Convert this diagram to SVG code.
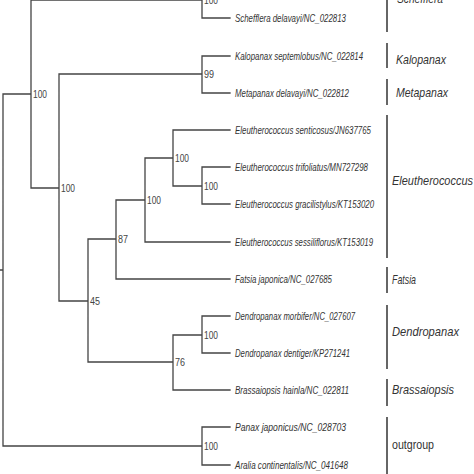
<svg xmlns="http://www.w3.org/2000/svg" width="474" height="474" viewBox="0 0 474 474">
<style>
.br{fill:none;stroke:#444;stroke-width:1.3;stroke-linecap:square}
.bar{stroke:#666;stroke-width:2}
.tip{font-family:"Liberation Sans",Arial,sans-serif;font-style:italic;font-size:10px;fill:#333}
.sup{font-family:"Liberation Sans",Arial,sans-serif;font-size:10px;fill:#444}
.gen{font-family:"Liberation Sans",Arial,sans-serif;font-style:italic;font-size:13px;fill:#333}
.og{font-family:"Liberation Sans",Arial,sans-serif;font-size:13px;fill:#333}
</style>
<rect width="474" height="474" fill="#fff"/>
<g id="connectors">
<path class="br" d="M0,270H3M3,94V446M3,94H31M31,0V188M31,0H202M202,-19V18M202,18H230M31,188H59M59,74V301M59,74H202M202,56V93M202,56H230M202,93H230M59,301H88M88,239V362M88,239H116M116,200V279M116,279H230M116,200H145M145,158V242M145,242H230M145,158H173M173,130V186M173,130H230M173,186H202M202,167V204M202,167H230M202,204H230M88,362H173M173,335V390M173,390H230M173,335H202M202,316V353M202,316H230M202,353H230M3,446H202M202,427V465M202,427H230M202,465H230"/>
</g>
<g id="supports">
<text class="sup" x="204" y="4" textLength="14" lengthAdjust="spacingAndGlyphs">100</text>
<text class="sup" x="33" y="98" textLength="14" lengthAdjust="spacingAndGlyphs">100</text>
<text class="sup" x="204" y="78" textLength="10" lengthAdjust="spacingAndGlyphs">99</text>
<text class="sup" x="61" y="192" textLength="14" lengthAdjust="spacingAndGlyphs">100</text>
<text class="sup" x="90" y="305" textLength="10" lengthAdjust="spacingAndGlyphs">45</text>
<text class="sup" x="118" y="243" textLength="10" lengthAdjust="spacingAndGlyphs">87</text>
<text class="sup" x="147" y="204" textLength="14" lengthAdjust="spacingAndGlyphs">100</text>
<text class="sup" x="175" y="162" textLength="14" lengthAdjust="spacingAndGlyphs">100</text>
<text class="sup" x="204" y="190" textLength="14" lengthAdjust="spacingAndGlyphs">100</text>
<text class="sup" x="175" y="366" textLength="10" lengthAdjust="spacingAndGlyphs">76</text>
<text class="sup" x="204" y="339" textLength="14" lengthAdjust="spacingAndGlyphs">100</text>
<text class="sup" x="204" y="450" textLength="14" lengthAdjust="spacingAndGlyphs">100</text>
</g>
<g id="tips">
<text class="tip" x="235" y="21.5" textLength="111" lengthAdjust="spacingAndGlyphs">Schefflera delavayi/NC_022813</text>
<text class="tip" x="235" y="59.5" textLength="128" lengthAdjust="spacingAndGlyphs">Kalopanax septemlobus/NC_022814</text>
<text class="tip" x="235" y="96.5" textLength="114" lengthAdjust="spacingAndGlyphs">Metapanax delavayi/NC_022812</text>
<text class="tip" x="235" y="133.5" textLength="136" lengthAdjust="spacingAndGlyphs">Eleutherococcus senticosus/JN637765</text>
<text class="tip" x="235" y="170.5" textLength="133" lengthAdjust="spacingAndGlyphs">Eleutherococcus trifoliatus/MN727298</text>
<text class="tip" x="235" y="207.5" textLength="139" lengthAdjust="spacingAndGlyphs">Eleutherococcus gracilistylus/KT153020</text>
<text class="tip" x="235" y="245.5" textLength="138" lengthAdjust="spacingAndGlyphs">Eleutherococcus sessiliflorus/KT153019</text>
<text class="tip" x="235" y="282.5" textLength="97" lengthAdjust="spacingAndGlyphs">Fatsia japonica/NC_027685</text>
<text class="tip" x="235" y="319.5" textLength="120" lengthAdjust="spacingAndGlyphs">Dendropanax morbifer/NC_027607</text>
<text class="tip" x="235" y="356.5" textLength="115" lengthAdjust="spacingAndGlyphs">Dendropanax dentiger/KP271241</text>
<text class="tip" x="235" y="393.5" textLength="114" lengthAdjust="spacingAndGlyphs">Brassaiopsis hainla/NC_022811</text>
<text class="tip" x="235" y="430.5" textLength="111" lengthAdjust="spacingAndGlyphs">Panax japonicus/NC_028703</text>
<text class="tip" x="235" y="468.5" textLength="113" lengthAdjust="spacingAndGlyphs">Aralia continentalis/NC_041648</text>
</g>
<g id="genera">
<line class="bar" x1="387" y1="0" x2="387" y2="32"/>
<text class="gen" x="397" y="3" textLength="46" lengthAdjust="spacingAndGlyphs">Schefflera</text>
<line class="bar" x1="387" y1="43" x2="387" y2="68"/>
<text class="gen" x="396" y="64" textLength="50" lengthAdjust="spacingAndGlyphs">Kalopanax</text>
<line class="bar" x1="387" y1="79" x2="387" y2="105"/>
<text class="gen" x="396" y="97" textLength="52" lengthAdjust="spacingAndGlyphs">Metapanax</text>
<line class="bar" x1="387" y1="115" x2="387" y2="258"/>
<text class="gen" x="392" y="185" textLength="81" lengthAdjust="spacingAndGlyphs">Eleutherococcus</text>
<line class="bar" x1="387" y1="267" x2="387" y2="293"/>
<text class="gen" x="392" y="284" textLength="24" lengthAdjust="spacingAndGlyphs">Fatsia</text>
<line class="bar" x1="387" y1="305" x2="387" y2="369"/>
<text class="gen" x="392" y="336" textLength="67" lengthAdjust="spacingAndGlyphs">Dendropanax</text>
<line class="bar" x1="387" y1="379" x2="387" y2="406"/>
<text class="gen" x="392" y="394" textLength="62" lengthAdjust="spacingAndGlyphs">Brassaiopsis</text>
<line class="bar" x1="387" y1="417" x2="387" y2="474"/>
<text class="og" x="392" y="449" textLength="42" lengthAdjust="spacingAndGlyphs">outgroup</text>
</g>
</svg>
